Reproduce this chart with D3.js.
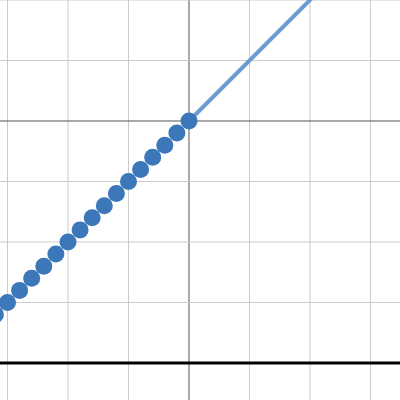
<!DOCTYPE html>
<html><head><meta charset="utf-8">
<script src="https://cdn.jsdelivr.net/npm/d3@7"></script>
<style>body{margin:0;background:#fff}svg{display:block}</style>
</head><body><svg id="c" width="400" height="400"></svg>
<script>
const gridX = [-3,-2,-1,0,1,2,3];
const gridY = [2,1,0,-1,-2,-3,-4];
const pointX = [0,-0.2,-0.4,-0.6,-0.8,-1,-1.2,-1.4,-1.6,-1.8,-2,-2.2,-2.4,-2.6,-2.8,-3,-3.2];
const pointY = [0,-0.2,-0.4,-0.6,-0.8,-1,-1.2,-1.4,-1.6,-1.8,-2,-2.2,-2.4,-2.6,-2.8,-3,-3.2];
const lineX = [0,3.5];
const lineY = [0,3.5];

const svg = d3.select("#c");
const x = d3.scaleLinear().domain([-3.124,3.488]).range([0,400]);
const y = d3.scaleLinear().domain([2,-4.612]).range([0,400]);

svg.selectAll(".gx").data(gridX).enter().append("line")
  .attr("x1",d=>x(d)).attr("x2",d=>x(d)).attr("y1",0).attr("y2",400)
  .attr("stroke",d=>d===0?"#555":"#ccc").attr("stroke-width",1);
svg.selectAll(".gy").data(gridY).enter().append("line")
  .attr("y1",d=>y(d)).attr("y2",d=>y(d)).attr("x1",0).attr("x2",400)
  .attr("stroke",d=>d===0?"#555":(d===-4?"#000":"#ccc")).attr("stroke-width",d=>d===-4?3:1);

svg.append("path").datum(lineX.map((v,i)=>[v,lineY[i]]))
  .attr("d",d3.line().x(d=>x(d[0])).y(d=>y(d[1])))
  .attr("stroke","#6b9bd1").attr("stroke-width",4).attr("fill","none");

svg.selectAll(".p").data(pointX.map((v,i)=>[v,pointY[i]])).enter().append("circle")
  .attr("cx",d=>x(d[0])).attr("cy",d=>y(d[1])).attr("r",8.5)
  .attr("fill","#3b77b9");
</script></body></html>
